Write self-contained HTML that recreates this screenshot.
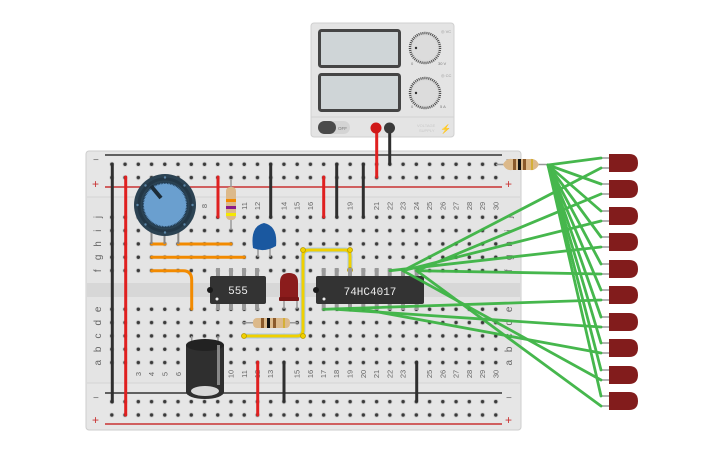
<!DOCTYPE html>
<html><head><meta charset="utf-8"><style>
html,body{margin:0;padding:0;background:#fff;width:725px;height:453px;overflow:hidden}
svg{display:block;font-family:"Liberation Sans",sans-serif}
.n{font-size:7.5px;fill:#666}
.l{font-size:10px;fill:#666}
</style></head><body>
<svg width="725" height="453" viewBox="0 0 725 453" xmlns="http://www.w3.org/2000/svg">
<defs>
<pattern id="h" x="105.2" y="157.6" width="13.24" height="13.33" patternUnits="userSpaceOnUse">
<circle cx="6.62" cy="6.67" r="2.6" fill="#cfcfcf"/><circle cx="6.62" cy="6.67" r="1.7" fill="#3a3a3a"/>
</pattern>
<pattern id="h2" x="105.2" y="210.6" width="13.24" height="13.33" patternUnits="userSpaceOnUse">
<circle cx="6.62" cy="6.67" r="2.6" fill="#cfcfcf"/><circle cx="6.62" cy="6.67" r="1.7" fill="#3a3a3a"/>
</pattern>
<pattern id="h3" x="105.2" y="302.6" width="13.24" height="13.33" patternUnits="userSpaceOnUse">
<circle cx="6.62" cy="6.67" r="2.6" fill="#cfcfcf"/><circle cx="6.62" cy="6.67" r="1.7" fill="#3a3a3a"/>
</pattern>
<pattern id="h4" x="105.2" y="395" width="13.24" height="13.33" patternUnits="userSpaceOnUse">
<circle cx="6.62" cy="6.67" r="2.6" fill="#cfcfcf"/><circle cx="6.62" cy="6.67" r="1.7" fill="#3a3a3a"/>
</pattern>
</defs>

<!-- power supply -->
<rect x="311" y="23" width="143" height="114" rx="3" fill="#e4e4e4" stroke="#d0d0d0"/>
<line x1="311" y1="117" x2="454" y2="117" stroke="#d2d2d2"/>
<rect x="319.5" y="30.5" width="80" height="36" rx="2" fill="#cfd5d7" stroke="#454545" stroke-width="3"/>
<rect x="319.5" y="74.5" width="80" height="36" rx="2" fill="#cfd5d7" stroke="#454545" stroke-width="3"/>
<circle cx="425" cy="48" r="15" fill="#d8d8d8" stroke="#4a4a4a" stroke-width="2.5" stroke-dasharray="1 1"/>
<circle cx="425" cy="48" r="12.5" fill="#dcdcdc"/>
<circle cx="416" cy="48" r="1.2" fill="#333"/>
<circle cx="425" cy="93" r="15" fill="#d8d8d8" stroke="#4a4a4a" stroke-width="2.5" stroke-dasharray="1 1"/>
<circle cx="425" cy="93" r="12.5" fill="#dcdcdc"/>
<circle cx="416" cy="93" r="1.2" fill="#333"/>
<text x="411" y="65" font-size="4" fill="#777">0</text><text x="438" y="65" font-size="4" fill="#777">30 V</text>
<text x="411" y="108" font-size="4" fill="#777">0</text><text x="440" y="108" font-size="4" fill="#777">5 A</text>
<text x="441" y="33" font-size="4" fill="#999">◎ VC</text><text x="441" y="77" font-size="4" fill="#999">◎ CC</text>
<rect x="318" y="121" width="32" height="13" rx="6.5" fill="#d4d4d4"/>
<rect x="318" y="121" width="18" height="13" rx="6.5" fill="#4a4a4a"/>
<text x="338" y="130" font-size="4.5" fill="#777">OFF</text>
<text x="417" y="127" font-size="4" fill="#c8c8c8">VOLTAGE</text><text x="419" y="132" font-size="4" fill="#c8c8c8">SUPPLY</text>
<text x="440" y="132" font-size="9" fill="#cfcfcf">⚡</text>

<!-- breadboard -->
<rect x="86" y="151" width="435" height="279" rx="3" fill="#e6e6e6" stroke="#cdcdcd"/>
<rect x="87" y="197" width="433" height="186" fill="#e4e4e4"/>
<line x1="87" y1="197" x2="520" y2="197" stroke="#d4d4d4"/>
<line x1="87" y1="383" x2="520" y2="383" stroke="#d4d4d4"/>
<rect x="87" y="283" width="433" height="14" fill="#d7d7d7"/>
<line x1="105" y1="155" x2="502" y2="155" stroke="#333" stroke-width="1.5"/>
<line x1="105" y1="187" x2="502" y2="187" stroke="#c83232" stroke-width="1.5"/>
<line x1="105" y1="393" x2="502" y2="393" stroke="#333" stroke-width="1.5"/>
<line x1="105" y1="424" x2="502" y2="424" stroke="#c83232" stroke-width="1.5"/>
<text x="93" y="163" class="l">−</text><text x="92" y="188" font-size="12" fill="#c83232">+</text>
<text x="506" y="163" class="l">−</text><text x="505" y="188" font-size="12" fill="#c83232">+</text>
<text x="93" y="401" class="l">−</text><text x="92" y="424" font-size="12" fill="#c83232">+</text>
<text x="506" y="401" class="l">−</text><text x="505" y="424" font-size="12" fill="#c83232">+</text>
<rect x="105.2" y="157.6" width="397.2" height="26.7" fill="url(#h)"/>
<rect x="105.2" y="210.6" width="397.2" height="66.7" fill="url(#h2)"/>
<rect x="105.2" y="302.6" width="397.2" height="66.7" fill="url(#h3)"/>
<rect x="105.2" y="395" width="397.2" height="26.7" fill="url(#h4)"/>

<!-- row letters -->
<g class="l" font-size="9">
<text transform="translate(101,217) rotate(-90)" text-anchor="middle">j</text>
<text transform="translate(101,230.7) rotate(-90)" text-anchor="middle">i</text>
<text transform="translate(101,244) rotate(-90)" text-anchor="middle">h</text>
<text transform="translate(101,257.3) rotate(-90)" text-anchor="middle">g</text>
<text transform="translate(101,270.7) rotate(-90)" text-anchor="middle">f</text>
<text transform="translate(101,309.3) rotate(-90)" text-anchor="middle">e</text>
<text transform="translate(101,322.7) rotate(-90)" text-anchor="middle">d</text>
<text transform="translate(101,336) rotate(-90)" text-anchor="middle">c</text>
<text transform="translate(101,349.3) rotate(-90)" text-anchor="middle">b</text>
<text transform="translate(101,362.7) rotate(-90)" text-anchor="middle">a</text>
<text transform="translate(512,217) rotate(-90)" text-anchor="middle">j</text>
<text transform="translate(512,230.7) rotate(-90)" text-anchor="middle">i</text>
<text transform="translate(512,244) rotate(-90)" text-anchor="middle">h</text>
<text transform="translate(512,257.3) rotate(-90)" text-anchor="middle">g</text>
<text transform="translate(512,270.7) rotate(-90)" text-anchor="middle">f</text>
<text transform="translate(512,309.3) rotate(-90)" text-anchor="middle">e</text>
<text transform="translate(512,322.7) rotate(-90)" text-anchor="middle">d</text>
<text transform="translate(512,336) rotate(-90)" text-anchor="middle">c</text>
<text transform="translate(512,349.3) rotate(-90)" text-anchor="middle">b</text>
<text transform="translate(512,362.7) rotate(-90)" text-anchor="middle">a</text>
</g>

<!-- column numbers top -->
<g class="n" text-anchor="middle">
<text transform="translate(204.7,206) rotate(-90)" dy="2.5">8</text>
<text transform="translate(231,206) rotate(-90)" dy="2.5">10</text>
<text transform="translate(244.3,206) rotate(-90)" dy="2.5">11</text>
<text transform="translate(257.7,206) rotate(-90)" dy="2.5">12</text>
<text transform="translate(284,206) rotate(-90)" dy="2.5">14</text>
<text transform="translate(297,206) rotate(-90)" dy="2.5">15</text>
<text transform="translate(310.3,206) rotate(-90)" dy="2.5">16</text>
<text transform="translate(350,206) rotate(-90)" dy="2.5">19</text>
<text transform="translate(376.7,206) rotate(-90)" dy="2.5">21</text>
<text transform="translate(389.9,206) rotate(-90)" dy="2.5">22</text>
<text transform="translate(403.1,206) rotate(-90)" dy="2.5">23</text>
<text transform="translate(416.4,206) rotate(-90)" dy="2.5">24</text>
<text transform="translate(429.6,206) rotate(-90)" dy="2.5">25</text>
<text transform="translate(442.9,206) rotate(-90)" dy="2.5">26</text>
<text transform="translate(456.1,206) rotate(-90)" dy="2.5">27</text>
<text transform="translate(469.4,206) rotate(-90)" dy="2.5">28</text>
<text transform="translate(482.6,206) rotate(-90)" dy="2.5">29</text>
<text transform="translate(495.8,206) rotate(-90)" dy="2.5">30</text>
<!-- bottom -->
<text transform="translate(138.7,374) rotate(-90)" dy="2.5">3</text>
<text transform="translate(151.7,374) rotate(-90)" dy="2.5">4</text>
<text transform="translate(165,374) rotate(-90)" dy="2.5">5</text>
<text transform="translate(178.3,374) rotate(-90)" dy="2.5">6</text>
<text transform="translate(231,374) rotate(-90)" dy="2.5">10</text>
<text transform="translate(244.3,374) rotate(-90)" dy="2.5">11</text>
<text transform="translate(257.7,374) rotate(-90)" dy="2.5">12</text>
<text transform="translate(270.7,374) rotate(-90)" dy="2.5">13</text>
<text transform="translate(297,374) rotate(-90)" dy="2.5">15</text>
<text transform="translate(310.3,374) rotate(-90)" dy="2.5">16</text>
<text transform="translate(323.7,374) rotate(-90)" dy="2.5">17</text>
<text transform="translate(336.7,374) rotate(-90)" dy="2.5">18</text>
<text transform="translate(350,374) rotate(-90)" dy="2.5">19</text>
<text transform="translate(363.3,374) rotate(-90)" dy="2.5">20</text>
<text transform="translate(376.7,374) rotate(-90)" dy="2.5">21</text>
<text transform="translate(389.9,374) rotate(-90)" dy="2.5">22</text>
<text transform="translate(403.1,374) rotate(-90)" dy="2.5">23</text>
<text transform="translate(429.6,374) rotate(-90)" dy="2.5">25</text>
<text transform="translate(442.9,374) rotate(-90)" dy="2.5">26</text>
<text transform="translate(456.1,374) rotate(-90)" dy="2.5">27</text>
<text transform="translate(469.4,374) rotate(-90)" dy="2.5">28</text>
<text transform="translate(482.6,374) rotate(-90)" dy="2.5">29</text>
<text transform="translate(495.8,374) rotate(-90)" dy="2.5">30</text>
</g>

<!-- wires -->
<g stroke-linecap="round" stroke-width="3" fill="none">
<line x1="112.3" y1="164" x2="112.3" y2="402" stroke="#2f2f2f"/>
<line x1="125.7" y1="177" x2="125.7" y2="415" stroke="#e02020"/>
<line x1="218" y1="177" x2="218" y2="217" stroke="#e02020"/>
<line x1="323.7" y1="177" x2="323.7" y2="217" stroke="#e02020"/>
<line x1="270.7" y1="164" x2="270.7" y2="217" stroke="#2f2f2f"/>
<line x1="336.7" y1="164" x2="336.7" y2="217" stroke="#2f2f2f"/>
<line x1="363.3" y1="164" x2="363.3" y2="217" stroke="#2f2f2f"/>
<line x1="376.7" y1="128" x2="376.7" y2="177" stroke="#e02020"/>
<line x1="389.7" y1="128" x2="389.7" y2="164" stroke="#2f2f2f"/>
<line x1="257.7" y1="362" x2="257.7" y2="415" stroke="#e02020"/>
<line x1="284" y1="362" x2="284" y2="401" stroke="#2f2f2f"/>
<line x1="416.7" y1="362" x2="416.7" y2="401" stroke="#2f2f2f"/>
<line x1="151.7" y1="244" x2="165" y2="244" stroke="#f28a00"/>
<line x1="178.3" y1="244" x2="231" y2="244" stroke="#f28a00"/>
<line x1="151.7" y1="257.3" x2="244.3" y2="257.3" stroke="#f28a00"/>
<path d="M151.7 270.7 H183 Q191.7 270.7 191.7 280 V309" stroke="#f28a00"/>
</g>
<!-- terminals -->
<circle cx="376" cy="128" r="5.5" fill="#d01818"/>
<circle cx="389.5" cy="128" r="5.5" fill="#3a3a3a"/>

<!-- pot -->
<line x1="151.5" y1="230" x2="151.5" y2="244" stroke="#888" stroke-width="2"/>
<line x1="164.5" y1="230" x2="164.5" y2="244" stroke="#888" stroke-width="2"/>
<line x1="178.3" y1="230" x2="178.3" y2="244" stroke="#888" stroke-width="2"/>
<circle cx="165" cy="205" r="31" fill="#2b4252"/>
<circle cx="165" cy="205" r="26" fill="none" stroke="#233746" stroke-width="3"/>
<circle cx="165" cy="205" r="22" fill="#6a9fcf" stroke="#1f3a52" stroke-width="2" stroke-dasharray="0.8 0.8"/>
<line x1="161" y1="198" x2="151" y2="186" stroke="#1c2c38" stroke-width="4"/>
<g fill="#5a86a8">
<circle cx="165" cy="177.5" r="1.2"/><circle cx="192.5" cy="205" r="1.2"/><circle cx="137.5" cy="205" r="1.2"/><circle cx="165" cy="232.5" r="1.2"/>
<circle cx="184.5" cy="185.5" r="1.2"/><circle cx="145.5" cy="185.5" r="1.2"/><circle cx="184.5" cy="224.5" r="1.2"/><circle cx="145.5" cy="224.5" r="1.2"/>
</g>

<!-- vertical resistor -->
<line x1="231" y1="180" x2="231" y2="230" stroke="#999" stroke-width="1.5"/>
<rect x="226" y="187" width="10" height="33" rx="4" fill="#dcb98a"/>
<rect x="226" y="199" width="10" height="3" fill="#f28a00"/>
<rect x="226" y="206" width="10" height="3" fill="#8a1a8a"/>
<rect x="226" y="213" width="10" height="3" fill="#f5e800"/>

<!-- ceramic cap -->
<line x1="258" y1="240" x2="258" y2="257" stroke="#999" stroke-width="1.5"/>
<line x1="270" y1="240" x2="270" y2="257" stroke="#999" stroke-width="1.5"/>
<path d="M253 248 Q250 226 264 223 Q278 226 276 246 Q264 253 253 248Z" fill="#1a58a0"/>

<!-- 555 -->
<g fill="#999">
<rect x="216" y="268" width="4" height="10"/><rect x="229" y="268" width="4" height="10"/><rect x="242" y="268" width="4" height="10"/><rect x="255" y="268" width="4" height="10"/>
<rect x="216" y="302" width="4" height="8"/><rect x="229" y="302" width="4" height="8"/><rect x="242" y="302" width="4" height="8"/><rect x="255" y="302" width="4" height="8"/>
</g>
<rect x="210" y="276" width="56" height="28" rx="2" fill="#333"/>
<circle cx="210" cy="290" r="3" fill="#1a1a1a"/>
<circle cx="217" cy="299" r="1.5" fill="#eee"/>
<text x="238" y="294" font-size="11" fill="#eee" text-anchor="middle" font-family="Liberation Mono,monospace">555</text>

<!-- red LED -->
<line x1="284" y1="298" x2="284" y2="309" stroke="#999" stroke-width="1.5"/>
<line x1="297" y1="298" x2="297" y2="309" stroke="#999" stroke-width="1.5"/>
<path d="M280 300 V282 Q280 273 289 273 Q298 273 298 282 V300Z" fill="#8b1c1c"/>
<rect x="279" y="297" width="20" height="4" rx="1" fill="#7a1616"/>

<!-- horizontal resistor -->
<line x1="243" y1="322.7" x2="298" y2="322.7" stroke="#999" stroke-width="1.5"/>
<rect x="253" y="318" width="37" height="10" rx="4" fill="#dcb98a"/>
<rect x="261" y="318" width="3" height="10" fill="#8b5a2b"/>
<rect x="267" y="318" width="3" height="10" fill="#111"/>
<rect x="273" y="318" width="3" height="10" fill="#8b5a2b"/>
<rect x="283" y="318" width="2" height="10" fill="#d4af37"/>

<!-- yellow wire -->
<path d="M244 336 H297 Q303 336 303 330 V256 Q303 250 309 250 H345 Q350 250 350 256 V270" fill="none" stroke="#a8c8e8" stroke-width="5"/>
<path d="M244 336 H297 Q303 336 303 330 V256 Q303 250 309 250 H345 Q350 250 350 256 V270" fill="none" stroke="#f0d000" stroke-width="3"/>
<g fill="#f0d000" stroke="#b89a00" stroke-width="0.8">
<circle cx="244" cy="336" r="2.5"/><circle cx="303" cy="336" r="2.5"/><circle cx="303" cy="250" r="2.5"/><circle cx="350" cy="250" r="2.5"/><circle cx="350" cy="270" r="2.5"/>
</g>

<!-- 74HC4017 -->
<g fill="#999">
<rect x="321.7" y="268" width="4" height="10"/><rect x="334.7" y="268" width="4" height="10"/><rect x="348" y="268" width="4" height="10"/><rect x="361.3" y="268" width="4" height="10"/><rect x="374.7" y="268" width="4" height="10"/><rect x="387.7" y="268" width="4" height="10"/><rect x="401" y="268" width="4" height="10"/><rect x="414.7" y="268" width="4" height="10"/>
<rect x="321.7" y="302" width="4" height="8"/><rect x="334.7" y="302" width="4" height="8"/><rect x="348" y="302" width="4" height="8"/><rect x="361.3" y="302" width="4" height="8"/><rect x="374.7" y="302" width="4" height="8"/><rect x="387.7" y="302" width="4" height="8"/><rect x="401" y="302" width="4" height="8"/><rect x="414.7" y="302" width="4" height="8"/>
</g>
<rect x="316" y="276" width="108" height="28" rx="2" fill="#333"/>
<circle cx="316" cy="290" r="3" fill="#1a1a1a"/>
<circle cx="324" cy="299" r="1.5" fill="#eee"/>
<text x="370" y="295" font-size="11" fill="#eee" text-anchor="middle" font-family="Liberation Mono,monospace">74HC4017</text>

<!-- electrolytic cap -->
<line x1="191.7" y1="336" x2="191.7" y2="345" stroke="#999" stroke-width="1.5"/>
<line x1="218" y1="336" x2="218" y2="345" stroke="#999" stroke-width="1.5"/>
<rect x="186" y="345" width="38" height="47" fill="#2f2f2f"/>
<ellipse cx="205" cy="345" rx="19" ry="6" fill="#222"/>
<ellipse cx="205" cy="392" rx="19" ry="7" fill="#2f2f2f"/>
<ellipse cx="205" cy="391" rx="14" ry="5" fill="#d8d8d8"/>
<rect x="217" y="345" width="3" height="40" fill="#888"/>

<!-- top-right resistor -->
<line x1="496" y1="164.5" x2="548" y2="164.5" stroke="#999" stroke-width="1.5"/>
<path d="M503 164.5 Q506 158 512 159 H530 Q536 158 539 164.5 Q536 171 530 170 H512 Q506 171 503 164.5Z" fill="#dcb98a"/>
<rect x="513" y="159" width="3" height="11" fill="#8b5a2b"/>
<rect x="518" y="159" width="3" height="11" fill="#111"/>
<rect x="523" y="159" width="3" height="11" fill="#8b5a2b"/>
<rect x="531" y="159" width="2" height="11" fill="#d4af37"/>

<!-- LEDs -->
<g>
<g stroke="#999" stroke-width="1.5">
<path d="M601 158 H610 M601 168 H610"/><path d="M601 184 H610 M601 194 H610"/><path d="M601 211 H610 M601 221 H610"/><path d="M601 237 H610 M601 247 H610"/><path d="M601 264 H610 M601 274 H610"/><path d="M601 290 H610 M601 300 H610"/><path d="M601 317 H610 M601 327 H610"/><path d="M601 343 H610 M601 353 H610"/><path d="M601 370 H610 M601 380 H610"/><path d="M601 396 H610 M601 406 H610"/>
</g>
<g fill="#821c1c">
<path d="M609 154 H629 Q638 154 638 163 Q638 172 629 172 H609Z"/>
<path d="M609 180 H629 Q638 180 638 189 Q638 198 629 198 H609Z"/>
<path d="M609 207 H629 Q638 207 638 216 Q638 225 629 225 H609Z"/>
<path d="M609 233 H629 Q638 233 638 242 Q638 251 629 251 H609Z"/>
<path d="M609 260 H629 Q638 260 638 269 Q638 278 629 278 H609Z"/>
<path d="M609 286 H629 Q638 286 638 295 Q638 304 629 304 H609Z"/>
<path d="M609 313 H629 Q638 313 638 322 Q638 331 629 331 H609Z"/>
<path d="M609 339 H629 Q638 339 638 348 Q638 357 629 357 H609Z"/>
<path d="M609 366 H629 Q638 366 638 375 Q638 384 629 384 H609Z"/>
<path d="M609 392 H629 Q638 392 638 401 Q638 410 629 410 H609Z"/>
</g>
</g>

<!-- green wires -->
<g stroke="#3db444" stroke-width="2.8" stroke-linecap="round" opacity="0.95">
<line x1="548" y1="165" x2="601" y2="158"/>
<line x1="548" y1="165" x2="601" y2="184"/>
<line x1="548" y1="165" x2="601" y2="211"/>
<line x1="548" y1="165" x2="601" y2="237"/>
<line x1="548" y1="165" x2="601" y2="264"/>
<line x1="548" y1="165" x2="601" y2="290"/>
<line x1="548" y1="165" x2="601" y2="317"/>
<line x1="548" y1="165" x2="601" y2="343"/>
<line x1="548" y1="165" x2="601" y2="370"/>
<line x1="548" y1="165" x2="601" y2="396"/>
<line x1="403" y1="270.7" x2="601" y2="168"/>
<line x1="416.7" y1="270.7" x2="601" y2="194"/>
<line x1="403" y1="270.7" x2="601" y2="221"/>
<line x1="389.9" y1="270.7" x2="601" y2="247"/>
<line x1="416.7" y1="270.7" x2="601" y2="274"/>
<line x1="323.7" y1="309.3" x2="601" y2="300"/>
<line x1="336.7" y1="309.3" x2="601" y2="327"/>
<line x1="363.3" y1="309.3" x2="601" y2="353"/>
<line x1="403" y1="270.7" x2="601" y2="380"/>
<line x1="416.7" y1="270.7" x2="601" y2="406"/>
</g>
</svg>
</body></html>
